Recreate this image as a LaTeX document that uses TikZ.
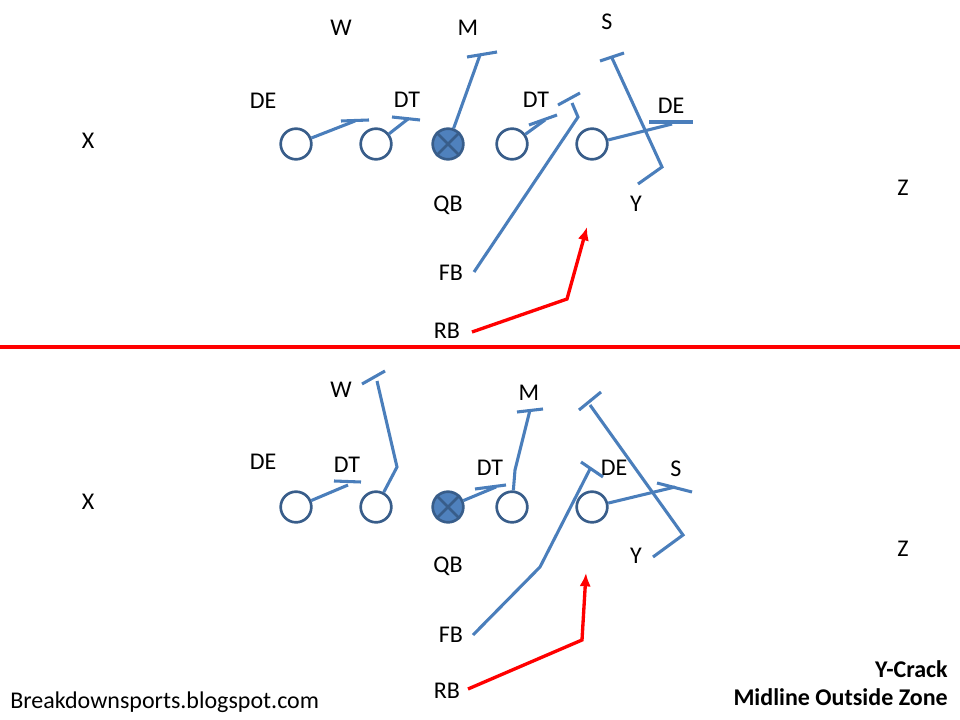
\documentclass[tikz,border=0pt]{standalone}
\usepackage{fontspec}
\setmainfont{Carlito}
\usetikzlibrary{arrows.meta}
\definecolor{routeblue}{RGB}{74,126,187}
\definecolor{rimblue}{RGB}{56,93,138}
\definecolor{snapblue}{RGB}{79,129,189}

\begin{document}
\begin{tikzpicture}[x=0.75pt, y=-0.75pt]
\tikzstyle{player} = [circle, draw = rimblue, line width = 2pt, minimum size = 23pt, inner sep = 0pt]
\tikzstyle{tag} = [font = \fontsize{18}{22}\selectfont, inner sep = 0pt]
\tikzstyle{route} = [draw = routeblue, line width = 2.3pt]
\tikzstyle{run} = [draw = red, line width = 2.5pt, -{Latex[length = 10pt, width = 8.5pt]}]
\useasboundingbox (0,0) rectangle (960,720);

\node (x1) [tag] at (88,141) {X};
\node (z1) [tag] at (903,188) {Z};
\node (w1) [tag] at (341,28) {W};
\node (m1) [tag] at (468,28) {M};
\node (s1) [tag] at (607,22) {S};
\node (de1) [tag] at (263,101) {DE};
\node (dt1) [tag] at (407,100) {DT};
\node (dt2) [tag] at (536,100) {DT};
\node (de2) [tag] at (671,106) {DE};
\node (qb1) [tag] at (448,205) {QB};
\node (y1) [tag] at (636,204) {Y};
\node (fb1) [tag] at (451,273) {FB};
\node (rb1) [tag] at (447,331) {RB};

\node (lt1) [player] at (296,144) {};
\node (lg1) [player] at (376,144) {};
\node (c1) [player, fill = snapblue] at (448,144) {};
\node (rg1) [player] at (512,144) {};
\node (rt1) [player] at (592,144) {};
\draw [rimblue, line width = 2pt] (c1.north west) -- (c1.south east);
\draw [rimblue, line width = 2pt] (c1.north east) -- (c1.south west);

\coordinate (lt1hit) at (355,121);
\coordinate (lg1hit) at (408,119);
\coordinate (c1hit) at (480,55);
\coordinate (rg1hit) at (545,120);
\coordinate (rt1hit) at (672,124);
\coordinate (fb1go) at (474,272);
\coordinate (fb1cut) at (578,117);
\coordinate (fb1hit) at (572,103);
\coordinate (y1go) at (638,184);
\coordinate (y1cut) at (662,167);
\coordinate (y1hit) at (612,58);
\coordinate (rb1go) at (472,332);
\coordinate (rb1cut) at (567,299);
\coordinate (rb1end) at (587,227);

\draw [route] (lt1) -- (lt1hit);
\draw [route] ([shift = {(-14,0)}]lt1hit) -- ([shift = {(14,-1)}]lt1hit);
\draw [route] (lg1) -- (lg1hit);
\draw [route] ([shift = {(-16,-2)}]lg1hit) -- ([shift = {(12,1)}]lg1hit);
\draw [route] (c1) -- (c1hit);
\draw [route] ([shift = {(-13,2)}]c1hit) -- ([shift = {(17,-3)}]c1hit);
\draw [route] (rg1) -- (rg1hit);
\draw [route] ([shift = {(-16,5)}]rg1hit) -- ([shift = {(12,-5)}]rg1hit);
\draw [route] (rt1) -- (rt1hit);
\draw [route] ([shift = {(-23,-2)}]rt1hit) -- ([shift = {(21,-2)}]rt1hit);
\draw [route] (fb1go) -- (fb1cut) -- (fb1hit);
\draw [route] ([shift = {(-14,2)}]fb1hit) -- ([shift = {(8,-10)}]fb1hit);
\draw [route] (y1go) -- (y1cut) -- (y1hit);
\draw [route] ([shift = {(-12,3)}]y1hit) -- ([shift = {(12,-5)}]y1hit);
\draw [run] (rb1go) -- (rb1cut) -- (rb1end);

\draw [red, line width = 2.5pt] (0,347) -- (960,347);

\node (x2) [tag] at (88,502) {X};
\node (z2) [tag] at (903,549) {Z};
\node (w2) [tag] at (341,390) {W};
\node (m2) [tag] at (529,393) {M};
\node (de3) [tag] at (263,462) {DE};
\node (dt3) [tag] at (347,465) {DT};
\node (dt4) [tag] at (490,468) {DT};
\node (de4) [tag] at (614,468) {DE};
\node (s2) [tag] at (676,469) {S};
\node (qb2) [tag] at (448,566) {QB};
\node (y2) [tag] at (636,556) {Y};
\node (fb2) [tag] at (451,635) {FB};
\node (rb2) [tag] at (447,691) {RB};

\node (lt2) [player] at (296,507) {};
\node (lg2) [player] at (376,507) {};
\node (c2) [player, fill = snapblue] at (448,507) {};
\node (rg2) [player] at (512,507) {};
\node (rt2) [player] at (592,507) {};
\draw [rimblue, line width = 2pt] (c2.north west) -- (c2.south east);
\draw [rimblue, line width = 2pt] (c2.north east) -- (c2.south west);

\coordinate (lt2hit) at (348,485);
\coordinate (lg2cut) at (397,467);
\coordinate (lg2hit) at (377,381);
\coordinate (c2hit) at (496,487);
\coordinate (rg2cut) at (515,470);
\coordinate (rg2hit) at (530,410);
\coordinate (rt2hit) at (675,487);
\coordinate (fb2go) at (473,635);
\coordinate (fb2cut) at (540,567);
\coordinate (fb2hit) at (590,469);
\coordinate (y2go) at (653,557);
\coordinate (y2cut) at (683,535);
\coordinate (y2hit) at (590,405);
\coordinate (rb2go) at (468,689);
\coordinate (rb2cut) at (582,640);
\coordinate (rb2end) at (586,573);

\draw [route] (lt2) -- (lt2hit);
\draw [route] ([shift = {(-14,-4)}]lt2hit) -- ([shift = {(13,-3)}]lt2hit);
\draw [route] (lg2) -- (lg2cut) -- (lg2hit);
\draw [route] ([shift = {(-15,3)}]lg2hit) -- ([shift = {(8,-10)}]lg2hit);
\draw [route] (c2) -- (c2hit);
\draw [route] ([shift = {(-21,2)}]c2hit) -- ([shift = {(10,-2)}]c2hit);
\draw [route] (rg2) -- (rg2cut) -- (rg2hit);
\draw [route] ([shift = {(-13,2)}]rg2hit) -- ([shift = {(13,-1)}]rg2hit);
\draw [route] (rt2) -- (rt2hit);
\draw [route] ([shift = {(-18,-4)}]rt2hit) -- ([shift = {(17,5)}]rt2hit);
\draw [route] (fb2go) -- (fb2cut) -- (fb2hit);
\draw [route] ([shift = {(-9,-7)}]fb2hit) -- ([shift = {(13,8)}]fb2hit);
\draw [route] (y2go) -- (y2cut) -- (y2hit);
\draw [route] ([shift = {(-11,5)}]y2hit) -- ([shift = {(11,-13)}]y2hit);
\draw [run] (rb2go) -- (rb2cut) -- (rb2end);

\node (blog) [tag, anchor = base west] at (10,708) {Breakdownsports.blogspot.com};
\node (play) [tag, anchor = east, font = \fontsize{18}{22}\selectfont\bfseries] at (948,669) {Y-Crack};
\node (scheme) [tag, anchor = east, font = \fontsize{18}{22}\selectfont\bfseries] at (948,697) {Midline Outside Zone};
\end{tikzpicture}
\end{document}
